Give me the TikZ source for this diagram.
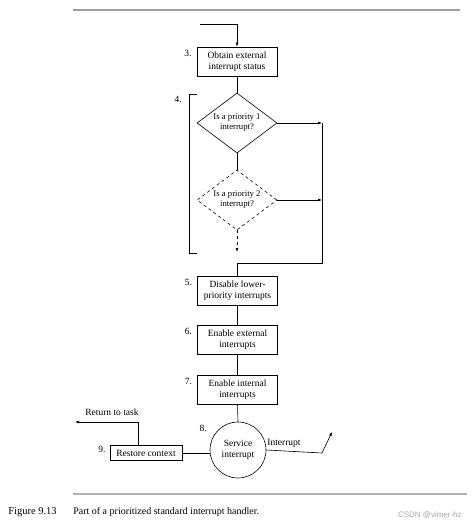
\documentclass[tikz,border=0pt]{standalone}
\usepackage{fontspec}
\setmainfont{Liberation Serif}
\newfontfamily\wmfont{Liberation Sans}
\usepackage{tikz}
\usetikzlibrary{positioning,shapes.geometric,arrows.meta,calc}

\begin{document}
\begin{tikzpicture}[
  x=1pt, y=-1pt,
  font=\fontsize{9.5}{11}\selectfont,
  line width=0.6pt,
  box/.style={draw, align=center, minimum width=80pt, minimum height=29pt, inner sep=1pt},
  dia/.style={draw, diamond, aspect=1.33, align=center, minimum width=80pt, minimum height=60pt, inner sep=0pt,
    font=\fontsize{8.7}{10}\selectfont},
  circ/.style={draw, circle, align=center, minimum size=56pt, inner sep=0pt},
  num/.style={anchor=north east, inner sep=1pt},
  arr/.style={-{Latex[length=4pt,width=3pt]}},
  rule/.style={gray!75, line width=1.3pt},
]
\useasboundingbox (0,0) rectangle (474,526);
\draw[rule] (73,10) -- (460,10);

% main column
\coordinate (s) at (200,24);
\node[box] (b3) at (237,61.5) {Obtain external\\interrupt status};
\node[dia] (d1) at (237,123) {Is a priority 1\\interrupt?};
\node[dia, dashed] (d2) at (237,200) {Is a priority 2\\interrupt?};
\coordinate (d2end) at (237,252);
\coordinate (rx) at (322,123);
\coordinate (jn) at (322,263);
\node[box] (b5) at (237.5,291) {Disable lower-\\priority interrupts};
\node[box] (b6) at (237.5,340) {Enable external\\interrupts};
\node[box] (b7) at (237.5,389.5) {Enable internal\\interrupts};
\node[circ] (c8) at (238,450) {Service\\interrupt};
\node[box, minimum width=72pt, minimum height=15pt] (b9) at (146,453) {Restore context};

% step numbers
\node[num] at ($(b3.north west)+(-4,2)$) {3.};
\node[num] at (183,95) {4.};
\node[num] at ($(b5.north west)+(-4,2)$) {5.};
\node[num] at ($(b6.north west)+(-4,2)$) {6.};
\node[num] at ($(b7.north west)+(-4,2)$) {7.};
\node[num] at (208,424) {8.};
\node[num] at ($(b9.north west)+(-3,0)$) {9.};

% bracket for step 4
\draw (197,94) -- (189,94) -- (189,253) -- (197,253);

% connectors
\draw[arr] (s) -| (b3.north);
\draw (b3.south) -- (d1.north);
\draw (d1.south) -- (d2.north);
\draw[arr, dashed] (d2.south) -- (d2end);
\draw[arr] (d1.east) -- (rx);
\draw[arr] (d2.east) -- (d2.east -| rx);
\draw (rx) -- (jn) -| (b5.north);
\foreach \a/\b in {b5/b6,b6/b7,b7/c8} \draw (\a.south) -- (\b.north);
\draw (b9.east) -- (b9.east -| c8.west);

% return to task
\coordinate (ret) at (75,422);
\draw[arr] ([xshift=-8pt]b9.north) |- (ret);
\node (rtl) at (112,412) {Return to task};

% interrupt
\coordinate (ik) at (322,453);
\coordinate (it) at (332,432);
\draw[arr] (c8.east) -- (ik) -- (it);
\node (il) at (284,443) {Interrupt};

% caption
\draw[rule, gray!60] (73,494) -- (467,494);
\node[anchor=west, inner sep=0pt, font=\fontsize{10.5}{12}\selectfont] (fig) at (8,512) {Figure 9.13};
\node[anchor=west, inner sep=0pt, font=\fontsize{10}{12}\selectfont] (cap) at (73,512) {Part of a prioritized standard interrupt handler.};
\node[anchor=east, inner sep=0pt, text=gray!70, font=\wmfont\fontsize{8}{10}\selectfont] (wm) at (462,515) {CSDN @vimer-hz};
\end{tikzpicture}
\end{document}
